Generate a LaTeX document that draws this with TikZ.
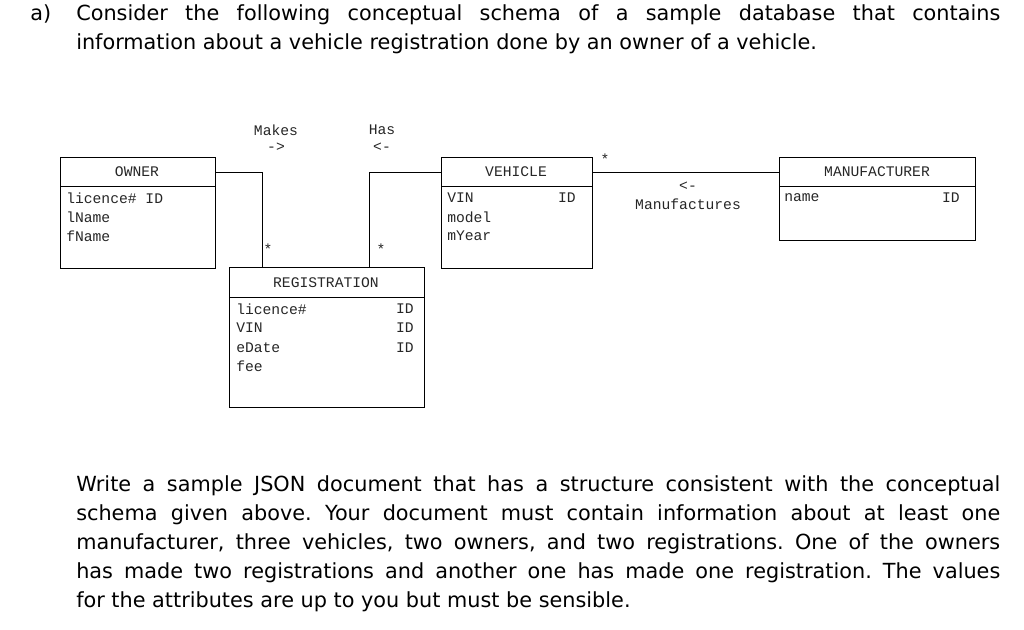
\documentclass[tikz,border=0pt]{standalone}
\usepackage{fontspec}
\setmainfont{DejaVu Sans}
\setmonofont{Liberation Mono}
\usetikzlibrary{calc}
\frenchspacing
\begin{document}
\begin{tikzpicture}[x=0.75pt,y=-0.75pt,
  box/.style={draw,line width=0.7pt,anchor=north west,inner sep=0pt},
  mono/.style={font=\ttfamily\fontsize{11}{12}\selectfont,inner sep=0pt,text=black!85},
  para/.style={anchor=north west,inner sep=0pt,text width=693pt,align=justify,font=\fontsize{15.6}{21.8}\selectfont},
  conn/.style={line width=0.7pt}]
\useasboundingbox (0,0) rectangle (1024,630);
\node[para] (p1) at (76,4) {Consider the following conceptual schema of a sample database that contains\linebreak information about a vehicle registration done by an owner of a vehicle.};
\node[anchor=north west,inner sep=0pt,font=\fontsize{15.6}{21.8}\selectfont] (pa) at (30,4) {a)};
\node[para] (p2) at (76,475) {Write a sample JSON document that has a structure consistent with the conceptual\linebreak schema given above. Your document must contain information about at least one\linebreak manufacturer, three vehicles, two owners, and two registrations. One of the owners\linebreak has made two registrations and another one has made one registration. The values\linebreak for the attributes are up to you but must be sensible.};
% boxes
\node[box,minimum width=155*0.75pt,minimum height=111*0.75pt] (owner) at (60,157) {};
\node[box,minimum width=151*0.75pt,minimum height=111*0.75pt] (veh) at (441,157) {};
\node[box,minimum width=195*0.75pt,minimum height=140*0.75pt] (reg) at (229,267) {};
\node[box,minimum width=196*0.75pt,minimum height=83*0.75pt] (man) at (779,157) {};
\draw[line width=0.7pt] (60,186) -- (215,186) (441,186) -- (592,186) (229,297) -- (424,297) (779,186) -- (975,186);
% titles
\node[mono] (ot) at (137,172) {OWNER};
\node[mono] (vt) at (516,172) {VEHICLE};
\node[mono] (rt) at (326,283) {REGISTRATION};
\node[mono] (mt) at (877,172) {MANUFACTURER};
% attributes
\node[mono,anchor=west] (o1) at (66,198) {licence\# ID};
\node[mono,anchor=west] (o2) at (66,217) {lName};
\node[mono,anchor=west] (o3) at (66,236) {fName};
\node[mono,anchor=west] (v1) at (447,198) {VIN};
\node[mono,anchor=east] (v1i) at (576,198) {ID};
\node[mono,anchor=west] (v2) at (447,217) {model};
\node[mono,anchor=west] (v3) at (447,236) {mYear};
\node[mono,anchor=west] (r1) at (236,309) {licence\#};
\node[mono,anchor=east] (r1i) at (414,309) {ID};
\node[mono,anchor=west] (r2) at (236,328) {VIN};
\node[mono,anchor=east] (r2i) at (414,328) {ID};
\node[mono,anchor=west] (r3) at (236,348) {eDate};
\node[mono,anchor=east] (r3i) at (414,348) {ID};
\node[mono,anchor=west] (r4) at (236,366) {fee};
\node[mono,anchor=west] (m1) at (784,198) {name};
\node[mono,anchor=east] (m1i) at (960,198) {ID};
% connectors
\coordinate (ka) at (262,172);
\coordinate (kb) at (369,172);
\draw[conn] (owner.north east |- ka) -- (ka) -- (ka |- reg.north);
\draw[conn] (veh.north west |- kb) -- (kb) -- (kb |- reg.north);
\draw[conn] (veh.north east |- ka) -- (man.north west |- ka);
% labels
\node[mono] (lm) at (276,130) {Makes};
\node[mono] (lma) at (276,147) {->};
\node[mono] (lh) at (382,130) {Has};
\node[mono] (lha) at (382,147) {<-};
\node[mono] (s1) at (268,249) {*};
\node[mono] (s2) at (381,249) {*};
\node[mono] (s3) at (605,159) {*};
\node[mono] (lf) at (688,186) {<-};
\node[mono] (lfa) at (688,204) {Manufactures};
\end{tikzpicture}
\end{document}
